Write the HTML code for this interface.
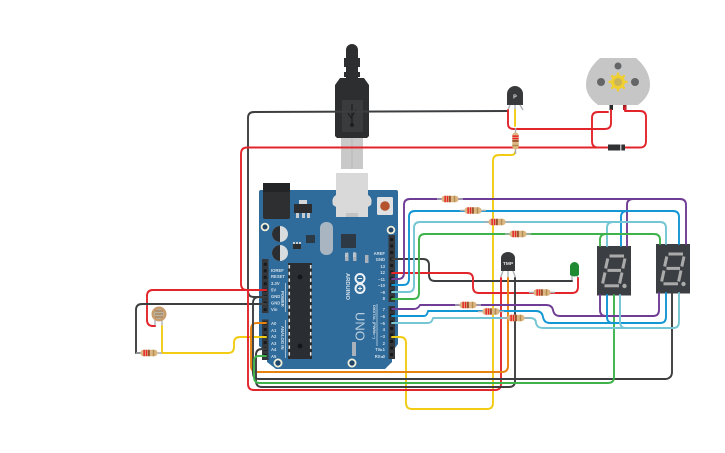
<!DOCTYPE html>
<html><head><meta charset="utf-8"><style>
html,body{margin:0;padding:0;background:#fff;width:725px;height:453px;overflow:hidden}
svg{display:block}
text{font-family:"Liberation Sans",sans-serif;fill:#d3dfe9}
.w{fill:none;stroke-width:1.9;stroke-linecap:round;stroke-linejoin:round}
.r{stroke:#e2252b}.k{stroke:#3c3e40}.p{stroke:#6f3d96}.b{stroke:#1296d4}.l{stroke:#74c6d4}.g{stroke:#3fb34b}.o{stroke:#e8820e}.y{stroke:#f2cc14}
.leg{stroke:#a9adb0;stroke-width:1.3;fill:none}
</style></head><body>
<svg width="725" height="453" viewBox="0 0 725 453" xmlns="http://www.w3.org/2000/svg">
<defs>
<g id="res"><line x1="-13" x2="13" y1="0" y2="0" stroke="#a9adb0" stroke-width="1.4"/><rect x="-8.500" y="-3.200" width="17" height="6.400" rx="3" fill="#dcb784"/><rect x="-5.600" y="-3.200" width="1.500" height="6.400" fill="#e8262a"/><rect x="-3.200" y="-3.200" width="1.500" height="6.400" fill="#e8262a"/><rect x="-.8" y="-3.200" width="1.500" height="6.400" fill="#8a3b1c"/><rect x="3.800" y="-3.200" width="1.400" height="6.400" fill="#b08d4f"/></g>
<g id="disp"><rect width="34" height="49.500" fill="#3b3f43"/>
<g stroke="#aaaaaa" stroke-width="3" fill="none"><line x1="12.500" y1="10" x2="27" y2="10"/><line x1="10.800" y1="12.500" x2="8.600" y2="22.500"/><line x1="28" y1="12.500" x2="25.800" y2="22.500"/><line x1="10.500" y1="24.400" x2="24" y2="24.400"/><line x1="8" y1="26.500" x2="5.600" y2="37.500"/><line x1="25" y1="26.500" x2="22.600" y2="37.500"/><line x1="7.500" y1="39.800" x2="22" y2="39.800"/></g><circle cx="27.500" cy="40" r="2.200" fill="#aaaaaa"/></g>
</defs>

<!-- board -->
<path d="M261 190H396a2 2 0 0 1 2 2V344L392 352V362L385 369H276L267 362V352L259 346V192a2 2 0 0 1 2-2Z" fill="#2f6c9c"/>
<rect x="263" y="183" width="27" height="36" rx="2" fill="#2e2f31"/><rect x="263" y="183" width="27" height="9" fill="#232425"/>
<rect x="299" y="200" width="8" height="4" fill="#d5d8da"/><rect x="294" y="204" width="18" height="9" fill="#2b2d30"/><rect x="296" y="213" width="3" height="5" fill="#c9ccce"/><rect x="302" y="213" width="3" height="5" fill="#c9ccce"/><rect x="307" y="213" width="3" height="5" fill="#c9ccce"/>
<rect x="377" y="197" width="16" height="18" rx="1.500" fill="#dfe1e2"/><circle cx="385" cy="206" r="4.800" fill="#b5532f"/>
<!-- usb receptacle -->
<path d="M336 173H368V195Q373 198 371 205L368 207V217H336V207L333 205Q331 198 336 195Z" fill="#d9d9d9"/><rect x="346" y="213" width="12" height="4" fill="#c2c2c2"/>
<!-- holes -->
<g fill="#21466a" stroke="#f2efd8" stroke-width="1.800"><circle cx="265" cy="227" r="3.400"/><circle cx="391" cy="230" r="3.400"/><circle cx="278" cy="363" r="3.600"/><circle cx="352" cy="363" r="3.600"/></g>
<!-- caps -->
<circle cx="280" cy="234" r="8" fill="#d8dcde"/><path d="M280 226a8 8 0 0 0 0 16Z" fill="#2b2d30"/><circle cx="280" cy="253" r="8" fill="#d8dcde"/><path d="M280 245a8 8 0 0 0 0 16Z" fill="#2b2d30"/>
<rect x="320" y="222" width="13" height="33" rx="6" fill="#a9b6c1"/>
<rect x="306" y="235" width="9" height="8" fill="#2c3a46"/><rect x="341" y="234" width="15" height="14" fill="#2d3a46"/>
<rect x="293" y="244" width="8" height="5" fill="#2b2d30"/><rect x="293" y="242" width="2" height="2" fill="#ccc"/><rect x="296" y="242" width="2" height="2" fill="#ccc"/><rect x="299" y="242" width="2" height="2" fill="#ccc"/>
<rect x="345" y="253" width="3.500" height="8" fill="#a9b2ba"/><rect x="353" y="253" width="3.500" height="8" fill="#a9b2ba"/><rect x="365" y="255" width="3.500" height="8" fill="#a9b2ba"/>
<rect x="352" y="342" width="4" height="14" fill="#a9b2ba"/>
<!-- atmega -->
<rect x="288" y="263" width="24" height="96" fill="#2a2e33"/>
<path d="M289.300 265V357M310.700 265V357" stroke="#e8e8e8" stroke-width="1.500" stroke-dasharray="3.500 3.200" fill="none"/>
<circle cx="300" cy="277" r="2.400" fill="#14171a"/><circle cx="300" cy="346" r="2.400" fill="#14171a"/>
<!-- headers -->
<rect x="262" y="259" width="6.500" height="54" fill="#34383c"/><rect x="262" y="319.500" width="6.500" height="40.500" fill="#34383c"/><rect x="388.500" y="235" width="6.500" height="67" fill="#34383c"/><rect x="388.500" y="306" width="6.500" height="53" fill="#34383c"/>
<g stroke="#17191b" stroke-width="3" stroke-dasharray="3 3.500" fill="none">
<path d="M265.200 262.700V311M265.200 321.500V358"/>
<path d="M391.700 238V300M391.700 307.500V358"/>
</g>
<!-- board text -->
<g font-size="4.200" font-weight="bold">
<text x="271" y="272">IOREF</text><text x="271" y="278">RESET</text><text x="271" y="285">3.3V</text><text x="271" y="291.500">5V</text><text x="271" y="298">GND</text><text x="271" y="304.500">GND</text><text x="271" y="311">Vin</text>
<text x="271" y="325">A0</text><text x="271" y="332">A1</text><text x="271" y="338">A2</text><text x="271" y="345">A3</text><text x="271" y="351">A4</text><text x="271" y="358">A5</text>
</g>
<g font-size="4.200" font-weight="bold" text-anchor="end">
<text x="385" y="255">AREF</text><text x="385" y="261">GND</text><text x="385" y="268">13</text><text x="385" y="274">12</text><text x="385" y="281">~11</text><text x="385" y="287">~10</text><text x="385" y="294">~9</text><text x="385" y="300">8</text><text x="385" y="311">7</text><text x="385" y="318">~6</text><text x="385" y="325">~5</text><text x="385" y="331">4</text><text x="385" y="338">~3</text><text x="385" y="345">2</text><text x="385" y="351">TX▸1</text><text x="385" y="358">RX◂0</text>
</g>
<text transform="translate(281,291) rotate(90)" font-size="4.200" font-weight="bold">POWER</text>
<text transform="translate(281,326) rotate(90)" font-size="4.200" font-weight="bold">ANALOG IN</text>
<text transform="translate(373,305) rotate(90)" font-size="4" font-weight="bold">DIGITAL (PWM=~)</text>
<path d="M285.500 283V312M285.500 320V358M377 304V346" stroke="#d3dfe9" stroke-width=".7" fill="none"/>
<text transform="translate(346,273) rotate(90)" font-size="5.800" font-weight="bold">ARDUINO</text>
<text transform="translate(355.500,312) rotate(90)" font-size="13" style="fill:#b9cddc">UNO</text>
<g fill="none" stroke="#eef2f5" stroke-width="2"><circle cx="360" cy="278.500" r="4.500"/><circle cx="360" cy="288.500" r="4.500"/></g>
<path d="M358 288.500H362M360 286.500V290.500M358 278.500H362" stroke="#eef2f5" stroke-width=".9"/>
<text transform="translate(345,252) rotate(90)" font-size="3.800" font-weight="bold">TX</text><text transform="translate(353,252) rotate(90)" font-size="3.800" font-weight="bold">RX</text>

<!-- usb cable + plug -->
<rect x="341" y="138" width="22" height="31" fill="#c9c9c9"/><line x1="352" y1="138" x2="352" y2="169" stroke="#b5b5b5" stroke-width=".8"/>
<path d="M346 50a6 6 0 0 1 12 0V58H360V67H358V72H360V77H358V78H364L369 85V136L367 138H337L335 136V85L340 78H346V77H344V72H346V67H344V58H346Z" fill="#2d2e30"/>
<rect x="342" y="100" width="21" height="32" fill="#3a3b3d"/>
<path d="M352 104V124M352 119L348 113M352 116L356 110" stroke="#1d1e1f" stroke-width="1.200" fill="none"/><circle cx="352" cy="125" r="2" fill="#1d1e1f"/>

<!-- motor -->
<path d="M600 58H636Q650 70 650 85Q650 96 638 105H598Q586 96 586 85Q586 70 600 58Z" fill="#c6c6c6"/>
<circle cx="618" cy="66" r="3.500" fill="#646566"/><circle cx="601" cy="82" r="4" fill="#646566"/><circle cx="635" cy="82" r="4" fill="#646566"/>
<circle cx="618" cy="82" r="7" fill="#f0cf30"/>
<path d="M618 72.500V91.500M608.500 82H627.500M611.300 75.300L624.700 88.700M624.700 75.300L611.300 88.700" stroke="#f0cf30" stroke-width="2.400"/>
<circle cx="618" cy="82" r="4" fill="#c9b45a"/>
<rect x="609.500" y="105" width="3.500" height="5" fill="#2b2b2b"/><rect x="623" y="105" width="3.500" height="5" fill="#a91e22"/>

<!-- transistor P -->
<path d="M507 94a8 8 0 0 1 16 0V105H507Z" fill="#37393b"/><text x="515" y="98.500" font-size="5.500" font-weight="bold" text-anchor="middle" style="fill:#e6e6e6">P</text>
<path class="leg" d="M510 105L508 110M515 105V110M520 105L523 110"/>
<!-- TMP -->
<path d="M501 258a7 6 0 0 1 14 0V271H501Z" fill="#37393b"/><text x="508" y="265" font-size="4.800" font-weight="bold" text-anchor="middle" style="fill:#e6e6e6">TMP</text>
<path class="leg" d="M503 271L501 276V279M508 271V279M513 271L515 276V279"/>
<!-- LED -->
<path class="leg" d="M572 275V281M577 275L578 279"/>
<path d="M570 266.500a4.500 4.500 0 0 1 9 0V275Q574.500 278 570 275Z" fill="#1f8a31"/>

<!-- LDR -->
<path class="leg" d="M155 320V326M162 320V326"/>
<circle cx="159" cy="314" r="7.500" fill="#c99c6d"/><circle cx="159" cy="314" r="5" fill="#b9b3a0"/><path d="M155 311H163M155 314H163M155 317H163" stroke="#a8703f" stroke-width="1"/>

<!-- displays -->
<use href="#disp" x="597" y="246"/><use href="#disp" x="656" y="244"/>

<!-- wires -->
<g class="w">
<path class="k" d="M507 111L254 112Q248 112 248 118V291Q248 297 254 297H266"/>
<path class="r" d="M608 147.500H247Q241 147.500 241 154V284Q241 290 247 290H266"/>
<path class="r" d="M266 290H153Q147 290 147 296V320Q147 326 153 326H155"/>
<path class="k" d="M266 304H142Q136 304 136 310V353H140"/>
<path class="y" d="M162 326V353H228Q234 353 234 347V343Q234 337 240 337H266"/>
<path class="r" d="M508 110V124Q508 129 514 129H605Q611 129 611 123V110"/>
<path class="y" d="M515 110V126"/>
<path class="r" d="M608 147.500H598Q592 147.500 592 141V118Q592 112 598 112H608"/>
<path class="r" d="M625 147.500H640Q646 147.500 646 141V117Q646 111 640 111H625V108"/>
<path class="y" d="M392 337H400Q406 337 406 343V403Q406 409 412 409H487Q493 409 493 403V161Q493 155 499 155H511Q515 155 515 152"/>
<path class="k" d="M392 259H423Q429 259 429 265V275Q429 281 435 281H572"/>
<path class="r" d="M392 273H467Q473 273 473 279V287Q473 293 479 293H572Q578 293 578 287V278"/>
<path class="r" d="M501 278V384Q501 390 495 390H254Q248 390 248 384V290"/>
<path class="o" d="M508 278V366Q508 372 502 372H257Q251 372 251 366V329Q251 323 257 323H266"/>
<path class="k" d="M515 278V381Q515 387 509 387H262Q256 387 256 381V355Q256 349 262 349H266"/>
<path class="k" d="M266 297H259Q253 297 253 303V373Q253 379 259 379H666Q672 378 672 372V293"/>
<path class="g" d="M266 356H259Q254 356 254 361V377Q254 383 260 383H608Q614 383 614 377V295"/>
<path class="p" d="M392 279H398Q404 279 404 273V205Q404 199 410 199H680Q686 199 686 205V244"/>
<path class="p" d="M627 246V205Q627 199 633 199H680"/>
<path class="b" d="M392 285H403Q409 285 409 279V217Q409 211 415 211H673Q679 211 679 217V244"/>
<path class="b" d="M621 246V217Q621 211 627 211"/>
<path class="l" d="M392 292H408Q414 292 414 286V228Q414 222 420 222H660Q666 222 666 228V244"/>
<path class="l" d="M607 246V228Q607 222 613 222"/>
<path class="g" d="M392 299H413Q419 299 419 293V240Q419 234 425 234H654Q660 234 660 240V244"/>
<path class="g" d="M600 246V240Q600 234 606 234"/>
<path class="p" d="M392 309H414Q418 309 420 305H546Q552 305 553 310Q554 316 560 316H653Q659 316 659 310V293"/>
<path class="p" d="M600 295V310Q600 316 606 316"/>
<path class="b" d="M392 316H424Q427 316 428 311H536Q542 311 543 317Q544 323 550 323H660Q666 323 666 317V293"/>
<path class="b" d="M607 295V317Q607 323 613 323"/>
<path class="l" d="M392 323H428Q432 323 433 318H530Q536 318 536 323Q537 328 543 328H673Q679 328 679 322V293"/>
<path class="l" d="M620 295V322Q620 328 626 328"/>
</g>

<!-- resistors -->
<use href="#res" x="450" y="199"/><use href="#res" x="473" y="210.500"/><use href="#res" x="497" y="222"/><use href="#res" x="518" y="234"/>
<use href="#res" x="542" y="292.500"/><use href="#res" x="468" y="305"/><use href="#res" x="491" y="311.500"/><use href="#res" x="516" y="318"/>
<use href="#res" x="149" y="353"/>
<use href="#res" transform="translate(515.500 141) rotate(90)"/>
<!-- diode -->
<rect x="608" y="144.500" width="17" height="6" fill="#303234"/><rect x="620" y="144.500" width="1.500" height="6" fill="#b9b9b9"/>
</svg>
</body></html>
